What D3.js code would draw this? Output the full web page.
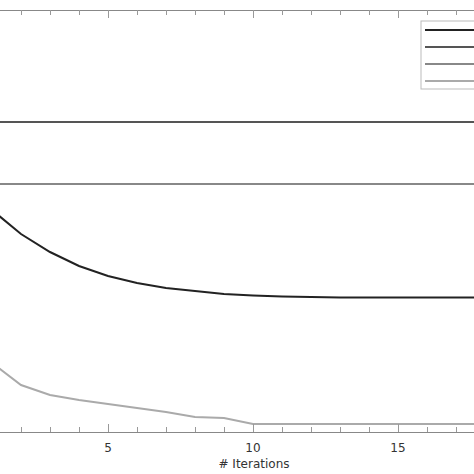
<!DOCTYPE html>
<html><head><meta charset="utf-8">
<script src="https://cdn.jsdelivr.net/npm/d3@7"></script>
<style>body{margin:0;background:#fff}svg{display:block}text{font-family:"DejaVu Sans",sans-serif}</style>
</head><body><svg id="c" width="474" height="474"></svg>
<script>
// data
var iters = d3.range(1, 21)
var seriesA = [22.2,19.8,18.0,16.6,15.6,14.9,14.4,14.1,13.8,13.65,13.55,13.5,13.45,13.45,13.45,13.45,13.45,13.45,13.45,13.45]
var seriesD = [6.9,4.7,3.7,3.2,2.8,2.4,2.0,1.5,1.4,0.8,0.8,0.8,0.8,0.8,0.8,0.8,0.8,0.8,0.8,0.8]
var constB = 31.0
var constC = 24.8
var colors = ["#222", "#555", "#888", "#aaa"]
var xTicks = [5, 10, 15]

var svg = d3.select("#c")
var x = d3.scaleLinear().domain([1, 20]).range([-8, 543])
var y = d3.scaleLinear().domain([0, 42.2]).range([432, 10])

svg.append("clipPath").attr("id", "clip").append("rect")
   .attr("x", 0).attr("y", 10).attr("width", 474).attr("height", 422)

var g = svg.append("g").attr("clip-path", "url(#clip)")

// axes: bottom + mirrored top
svg.append("line").attr("x1", 0).attr("x2", 474).attr("y1", 432.5).attr("y2", 432.5).attr("stroke", "#888")
svg.append("line").attr("x1", 0).attr("x2", 474).attr("y1", 10.5).attr("y2", 10.5).attr("stroke", "#888")
iters.forEach(function(v) {
  var big = v % 5 == 0
  var px = Math.round(x(v)) + 0.5
  if (px < 0 || px > 474) return
  svg.append("line").attr("x1", px).attr("x2", px).attr("y1", 432).attr("y2", big ? 424 : 427).attr("stroke", "#999")
  svg.append("line").attr("x1", px).attr("x2", px).attr("y1", 10).attr("y2", big ? 18 : 15).attr("stroke", "#999")
})
svg.selectAll(".tl").data(xTicks).enter().append("text")
   .attr("x", function(d) { return x(d) }).attr("y", 452)
   .attr("text-anchor", "middle").attr("font-size", 12).attr("fill", "#333")
   .text(function(d) { return d })
svg.append("text").attr("x", 254).attr("y", 468).attr("text-anchor", "middle")
   .attr("font-size", 12).attr("fill", "#333").text("# Iterations")

var line = d3.line().x(function(d, i) { return x(iters[i]) }).y(function(d) { return y(d) })

g.append("path").datum(iters.map(function() { return constB })).attr("d", line)
 .attr("fill", "none").attr("stroke", colors[1]).attr("stroke-width", 2)
g.append("path").datum(iters.map(function() { return constC })).attr("d", line)
 .attr("fill", "none").attr("stroke", colors[2]).attr("stroke-width", 2)
g.append("path").datum(seriesA).attr("d", line)
 .attr("fill", "none").attr("stroke", colors[0]).attr("stroke-width", 2)
g.append("path").datum(seriesD).attr("d", line)
 .attr("fill", "none").attr("stroke", colors[3]).attr("stroke-width", 2)

// legend (labels are cut off by the picture's right edge)
var lg = svg.append("g").attr("transform", "translate(421,21)")
lg.append("rect").attr("width", 80).attr("height", 68).attr("fill", "#fff").attr("stroke", "#bbb")
colors.forEach(function(c, i) {
  lg.append("line").attr("x1", 4).attr("x2", 60).attr("y1", 9 + i * 17).attr("y2", 9 + i * 17)
    .attr("stroke", c).attr("stroke-width", 2)
})
</script></body></html>
